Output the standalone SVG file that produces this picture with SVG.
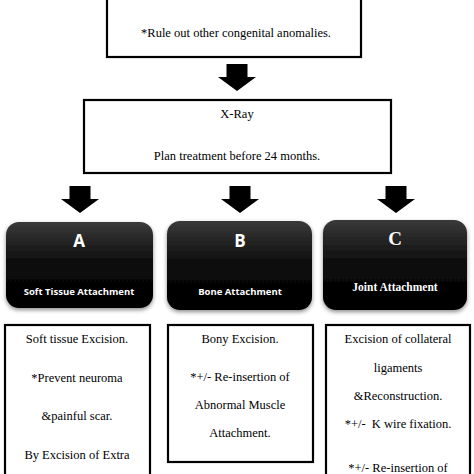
<svg xmlns="http://www.w3.org/2000/svg" width="474" height="474" viewBox="0 0 474 474">
<defs>
<linearGradient id="g" x1="0" y1="0" x2="0" y2="1">
<stop offset="0" stop-color="#3a3a3a"/>
<stop offset="0.5" stop-color="#0a0a0a"/>
<stop offset="1" stop-color="#000"/>
</linearGradient>
<filter id="sh" x="-10%" y="-10%" width="120%" height="130%">
<feDropShadow dx="0" dy="2" stdDeviation="2" flood-color="#000" flood-opacity="0.45"/>
</filter>
<path id="arr" d="M-10.5,0 H10.5 V13 H19 L0,27 L-19,13 H-10.5 Z"/>
</defs>
<style>
.box{fill:#fff;stroke:#000;stroke-width:2.2}
.t{font-family:"Liberation Serif","Times New Roman",serif;font-size:12.5px;fill:#000;text-anchor:middle}
.dk{fill:url(#g);filter:url(#sh)}
.L{font-family:"Open Sans","Liberation Sans",sans-serif;font-weight:bold;font-size:17px;fill:#fff;text-anchor:middle}
.Ls{font-family:"Liberation Serif",serif;font-weight:bold;font-size:19px;fill:#fff;text-anchor:middle}
.s{font-family:"Open Sans","Liberation Sans",sans-serif;font-weight:bold;font-size:9.5px;fill:#fff;text-anchor:middle}
.ss{font-family:"Liberation Serif",serif;font-weight:bold;font-size:11.5px;fill:#fff;text-anchor:middle}
</style>
<g id="connectors" fill="#000">
<use href="#arr" x="237" y="64"/>
<use href="#arr" x="80" y="186"/>
<use href="#arr" x="240" y="186"/>
<use href="#arr" x="396" y="186"/>
</g>
<g id="exam">
<rect class="box" x="107" y="-20" width="254" height="77"/>
<text class="t" x="236" y="37">*Rule out other congenital anomalies.</text>
</g>
<g id="xray">
<rect class="box" x="84" y="100" width="307" height="73"/>
<text class="t" x="237" y="118">X-Ray</text>
<text class="t" x="237" y="160">Plan treatment before 24 months.</text>
</g>
<g id="A">
<rect class="dk" x="6" y="222" width="147" height="86" rx="13"/>
<text class="L" x="79" y="247">A</text>
<text class="s" x="79" y="295">Soft Tissue Attachment</text>
</g>
<g id="B">
<rect class="dk" x="167" y="221" width="145" height="89" rx="13"/>
<text class="L" x="240" y="247">B</text>
<text class="s" x="240" y="295">Bone Attachment</text>
</g>
<g id="C">
<rect class="dk" x="323" y="220" width="144" height="90" rx="13"/>
<text class="Ls" x="395" y="245">C</text>
<text class="ss" x="395" y="291">Joint Attachment</text>
</g>
<g id="A-detail">
<rect class="box" x="5" y="325" width="145" height="170"/>
<text class="t" x="77" y="343">Soft tissue Excision.</text>
<text class="t" x="77" y="382">*Prevent neuroma</text>
<text class="t" x="77" y="420">&amp;painful scar.</text>
<text class="t" x="77" y="459">By Excision of Extra</text>
</g>
<g id="B-detail">
<rect class="box" x="168" y="325" width="145" height="137"/>
<text class="t" x="240" y="343">Bony Excision.</text>
<text class="t" x="240" y="381">*+/- Re-insertion of</text>
<text class="t" x="240" y="409">Abnormal Muscle</text>
<text class="t" x="240" y="437">Attachment.</text>
</g>
<g id="C-detail">
<rect class="box" x="326" y="325" width="144" height="170"/>
<text class="t" x="398" y="343">Excision of collateral</text>
<text class="t" x="398" y="372">ligaments</text>
<text class="t" x="398" y="400">&amp;Reconstruction.</text>
<text class="t" x="398" y="428" xml:space="preserve">*+/-  K wire fixation.</text>
<text class="t" x="398" y="472">*+/- Re-insertion of</text>
</g>
</svg>
